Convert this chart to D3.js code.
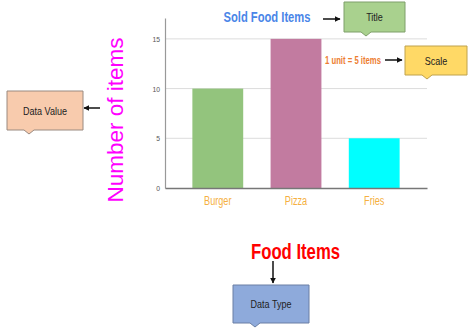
<!DOCTYPE html>
<html>
<head>
<meta charset="utf-8">
<script src="https://cdn.jsdelivr.net/npm/d3@7"></script>
<style>
  body { margin: 0; background: #fff; }
  svg { display: block; }
</style>
</head>
<body>
<div id="chart"></div>
<script>
// data
const foods = ["Burger", "Pizza", "Fries"];
const counts = [10, 15, 5];
const barColors = ["#93c47d", "#c27ba0", "#00ffff"];
const yTicks = [0, 5, 10, 15];

const width = 474;
const height = 332;
const font = "'Liberation Sans', Arial, sans-serif";

// squeeze text horizontally so it looks like a narrow font
const condense = (sel, k) => {
  sel.each(function() {
    const len = this.getComputedTextLength();
    d3.select(this)
      .attr("textLength", len * k)
      .attr("lengthAdjust", "spacingAndGlyphs");
  });
};

const svg = d3.select("#chart")
  .append("svg")
  .attr("width", width)
  .attr("height", height);

// scales
const x = d3.scaleBand()
  .domain(foods)
  .range([165, 427])
  .paddingInner(0.35)
  .paddingOuter(0.35);

const y = d3.scaleLinear()
  .domain([0, 17.1])
  .range([188, 18]);

// grid lines
svg.append("g")
  .selectAll("line")
  .data(yTicks.filter(d => d > 0))
  .enter().append("line")
  .attr("x1", 165)
  .attr("x2", 427)
  .attr("y1", d => y(d))
  .attr("y2", d => y(d))
  .attr("stroke", "#dcdcdc")
  .attr("stroke-width", 1);

// bars
svg.append("g")
  .selectAll("rect")
  .data(foods)
  .enter().append("rect")
  .attr("x", d => x(d))
  .attr("y", (d, i) => y(counts[i]))
  .attr("width", x.bandwidth())
  .attr("height", (d, i) => y(0) - y(counts[i]))
  .attr("fill", (d, i) => barColors[i]);

// y axis
const yAxis = svg.append("g")
  .attr("transform", "translate(165,0)")
  .call(d3.axisLeft(y).tickValues(yTicks).tickSize(0).tickPadding(5));
yAxis.select(".domain").attr("stroke", "#999").attr("stroke-width", 1.2);
yAxis.selectAll("text")
  .attr("fill", "#555")
  .style("font-size", "8px")
  .style("font-family", font)
  .call(condense, 0.85);

// x axis
const xAxis = svg.append("g")
  .attr("transform", "translate(0,188)")
  .call(d3.axisBottom(x).tickSize(0).tickPadding(8).tickSizeOuter(0));
xAxis.select(".domain").attr("stroke", "#777").attr("stroke-width", 1.5);
xAxis.selectAll("text")
  .attr("fill", "#f5b041")
  .style("font-size", "12px")
  .style("font-family", font)
  .call(condense, 0.76);

// title
svg.append("text")
  .attr("x", 267)
  .attr("y", 22)
  .attr("text-anchor", "middle")
  .attr("fill", "#4a86e8")
  .style("font-family", font)
  .style("font-weight", "bold")
  .style("font-size", "15px")
  .attr("textLength", 87)
  .attr("lengthAdjust", "spacingAndGlyphs")
  .text("Sold Food Items");

// y label
svg.append("text")
  .attr("transform", "translate(123,120) rotate(-90)")
  .attr("text-anchor", "middle")
  .attr("fill", "#ff00ff")
  .style("font-family", font)
  .style("font-size", "22.5px")
  .text("Number of items");

// x label
svg.append("text")
  .attr("x", 295.5)
  .attr("y", 259)
  .attr("text-anchor", "middle")
  .attr("fill", "#ff0000")
  .style("font-family", font)
  .style("font-weight", "bold")
  .style("font-size", "22px")
  .attr("textLength", 89)
  .attr("lengthAdjust", "spacingAndGlyphs")
  .text("Food Items");

// scale note
svg.append("text")
  .attr("x", 353)
  .attr("y", 63.5)
  .attr("text-anchor", "middle")
  .attr("fill", "#ed7d31")
  .style("font-family", font)
  .style("font-weight", "bold")
  .style("font-size", "10px")
  .attr("textLength", 56)
  .attr("lengthAdjust", "spacingAndGlyphs")
  .text("1 unit = 5 items");

// arrows
const defs = svg.append("defs");
defs.append("marker")
  .attr("id", "head")
  .attr("viewBox", "0 0 10 10")
  .attr("refX", 9)
  .attr("refY", 5)
  .attr("markerWidth", 4)
  .attr("markerHeight", 4)
  .attr("orient", "auto")
  .append("path")
  .attr("d", "M0,0L10,5L0,10Z")
  .attr("fill", "#111");

const arrows = [
  [323, 19, 340, 19],
  [385, 60, 402, 60],
  [100, 108, 84, 108],
  [273, 261, 273, 283]
];
svg.append("g")
  .selectAll("line")
  .data(arrows)
  .enter().append("line")
  .attr("x1", d => d[0])
  .attr("y1", d => d[1])
  .attr("x2", d => d[2])
  .attr("y2", d => d[3])
  .attr("stroke", "#111")
  .attr("stroke-width", 1.5)
  .attr("marker-end", "url(#head)");

// callout boxes
const callouts = [
  { label: "Title", x: 344, y: 2, w: 61, h: 30, fill: "#a9d18e", stroke: "#7f9f6a" },
  { label: "Scale", x: 405, y: 46, w: 62, h: 29, fill: "#ffd966", stroke: "#bfa24c" },
  { label: "Data Value", x: 7, y: 91, w: 76, h: 39, fill: "#f8cbad", stroke: "#9a8a80" },
  { label: "Data Type", x: 233, y: 285, w: 76, h: 38, fill: "#8eaadb", stroke: "#6a7fa4" }
];

const box = svg.append("g")
  .selectAll("g")
  .data(callouts)
  .enter().append("g");

box.append("path")
  .attr("d", d => {
    const nx = d.x + 22;
    const b = d.y + d.h;
    return "M" + d.x + "," + d.y + "H" + (d.x + d.w) + "V" + b +
      "H" + (nx + 5) + "L" + nx + "," + (b + 4) + "L" + (nx - 5) + "," + b +
      "H" + d.x + "Z";
  })
  .attr("fill", d => d.fill)
  .attr("stroke", d => d.stroke)
  .attr("stroke-width", 1);

box.append("text")
  .attr("x", d => d.x + d.w / 2)
  .attr("y", d => d.y + d.h / 2 + 4)
  .attr("text-anchor", "middle")
  .attr("fill", "#222")
  .style("font-family", font)
  .style("font-size", "11px")
  .text(d => d.label)
  .call(condense, 0.82);
</script>
</body>
</html>
